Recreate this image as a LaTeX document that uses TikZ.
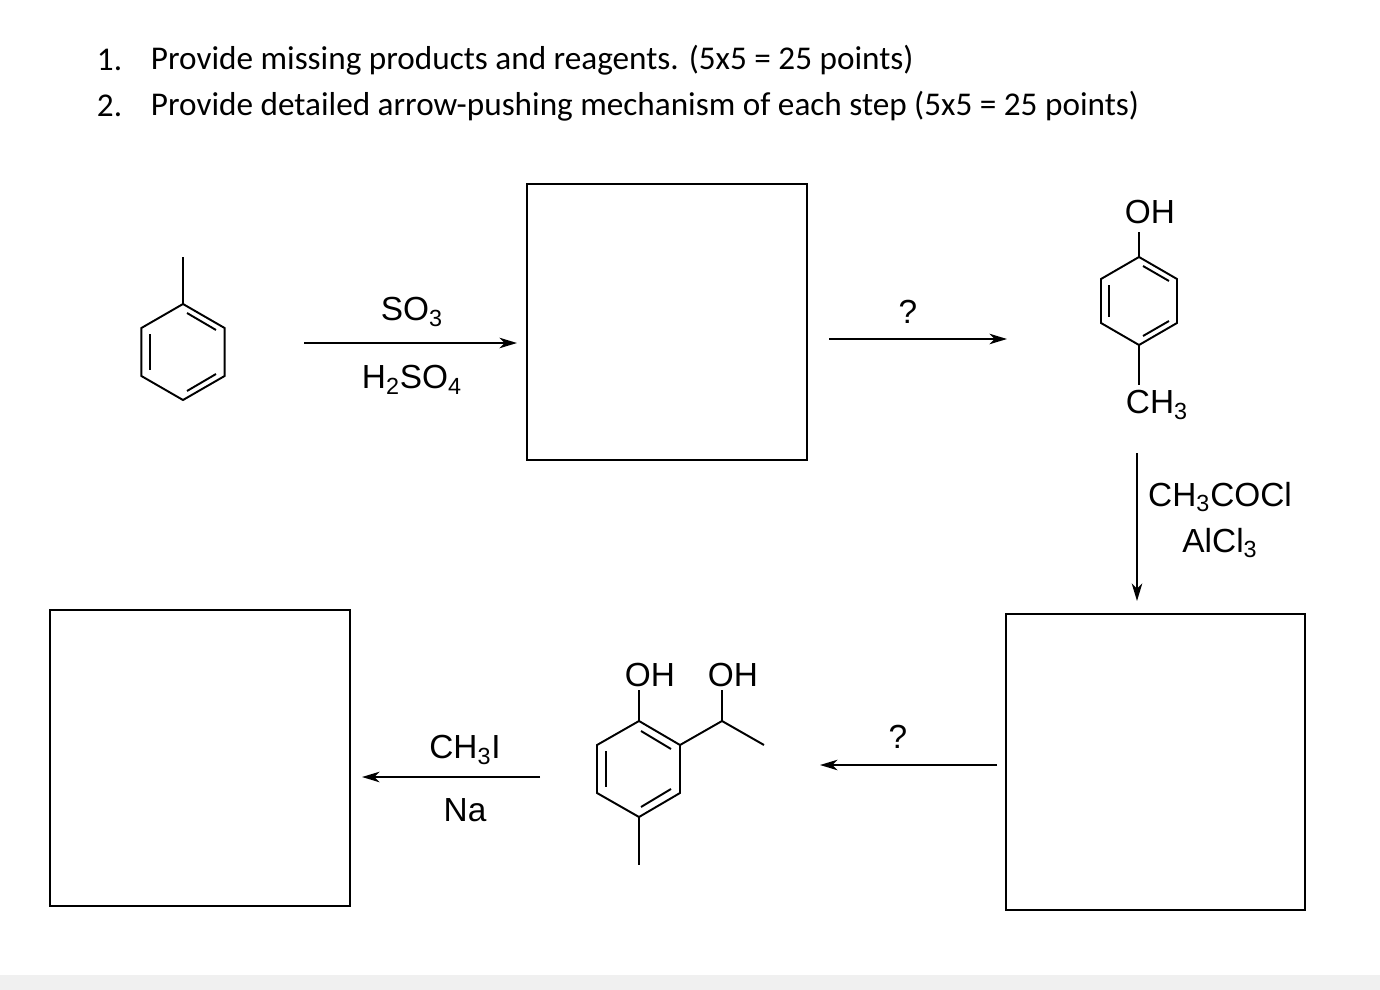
\documentclass[tikz,border=0pt]{standalone}
\usepackage{fontspec}
\setmainfont{Liberation Sans}
\newfontfamily\titlefont{Carlito}
\usetikzlibrary{arrows.meta}
\begin{document}
\begin{tikzpicture}[x=0.02cm,y=-0.02cm,line width=1.1pt,
  lbl/.style={font=\fontsize{19}{22}\selectfont,inner sep=0pt},
  ttl/.style={font=\titlefont\fontsize{18.9}{24}\selectfont,inner sep=0pt,anchor=west},
  ansbox/.style={draw,line width=1.1pt},
  rxn/.style={-{Stealth[length=10pt,width=6pt,inset=3pt]},line width=1pt},
  bond/.style={line width=1.1pt}]
\useasboundingbox (0,0) rectangle (1380,990);
\fill[gray!12] (0,975) rectangle (1380,990);
% titles
\node[ttl] (n1) at (96,60) {1.};
\node[ttl] (t1) at (150,60) {Provide missing products and reagents. (5x5 = 25 points)};
\node[ttl] (n2) at (96,106) {2.};
\node[ttl] (t2) at (150,106) {Provide detailed arrow-pushing mechanism of each step (5x5 = 25 points)};
% --- toluene
\begin{scope}[shift={(183,352)}]
 \coordinate (ta) at (0,-48); \coordinate (tb) at (41.6,-24); \coordinate (tc) at (41.6,24);
 \coordinate (td) at (0,48); \coordinate (te) at (-41.6,24); \coordinate (tf) at (-41.6,-24);
 \draw[bond] (ta)--(tb)--(tc)--(td)--(te)--(tf)--cycle;
 \draw[bond] (4,-39)--(33,-22);
 \draw[bond] (33,22)--(4,39);
 \draw[bond] (-33,-18)--(-33,18);
 \coordinate (tm) at (0,-95);
 \draw[bond] (ta)--(tm);
\end{scope}
% arrow 1
\coordinate (a1s) at (304,343); \coordinate (a1e) at (517,343);
\draw[rxn] (a1s)--(a1e);
\node[lbl] (so3) at (412,312) {SO\textsubscript{3}};
\node[lbl] (h2so4) at (412,380) {H\textsubscript{2}SO\textsubscript{4}};
\draw[ansbox] (527,184) rectangle (807,460);
% arrow 2
\coordinate (a2s) at (829,339); \coordinate (a2e) at (1007,339);
\draw[rxn] (a2s)--(a2e);
\node[lbl] (q1) at (908,312) {?};
% p-cresol
\begin{scope}[shift={(1139,301)}]
 \coordinate (pa) at (0,-44); \coordinate (pb) at (38,-22); \coordinate (pc) at (38,22);
 \coordinate (pd) at (0,44); \coordinate (pe) at (-38,22); \coordinate (pf) at (-38,-22);
 \draw[bond] (pa)--(pb)--(pc)--(pd)--(pe)--(pf)--cycle;
 \draw[bond] (4,-35)--(30,-20);
 \draw[bond] (30,20)--(4,35);
 \draw[bond] (-30,-16)--(-30,16);
 \draw[bond] (pa)--(0,-69);
 \draw[bond] (pd)--(0,84);
\end{scope}
\node[lbl] (oh0) at (1150,212) {OH};
\node[lbl] (ch3a) at (1157,405) {CH\textsubscript{3}};
% vertical arrow
\coordinate (a3s) at (1137,453); \coordinate (a3e) at (1137,601);
\draw[rxn] (a3s)--(a3e);
\node[lbl] (accl) at (1220,497) {CH\textsubscript{3}COCl};
\node[lbl] (alcl) at (1220,543) {AlCl\textsubscript{3}};
\draw[ansbox] (1006,614) rectangle (1305,910);
% arrow 4
\coordinate (a4s) at (997,765); \coordinate (a4e) at (820,765);
\draw[rxn] (a4s)--(a4e);
\node[lbl] (q2) at (898,737) {?};
% diol
\coordinate (ma) at (639,721); \coordinate (mb) at (680,745); \coordinate (mc) at (680,793);
\coordinate (md) at (639,817); \coordinate (me) at (597,793); \coordinate (mf) at (597,745);
\draw[bond] (ma)--(mb)--(mc)--(md)--(me)--(mf)--cycle;
\draw[bond] (641,731)--(671,749);
\draw[bond] (671,789)--(641,807);
\draw[bond] (606,751)--(606,787);
\draw[bond] (ma)--(639,690);
\draw[bond] (md)--(639,865);
\coordinate (mg) at (722,721); \coordinate (mh) at (764,745);
\draw[bond] (mb)--(mg)--(mh);
\draw[bond] (mg)--(722,690);
\node[lbl] (oh1) at (650,675) {OH};
\node[lbl] (oh2) at (733,675) {OH};
% arrow 5
\coordinate (a5s) at (540,777); \coordinate (a5e) at (362,777);
\draw[rxn] (a5s)--(a5e);
\node[lbl] (ch3i) at (465,750) {CH\textsubscript{3}I};
\node[lbl] (na) at (465,810) {Na};
\draw[ansbox] (50,610) rectangle (350,906);
\end{tikzpicture}
\end{document}
